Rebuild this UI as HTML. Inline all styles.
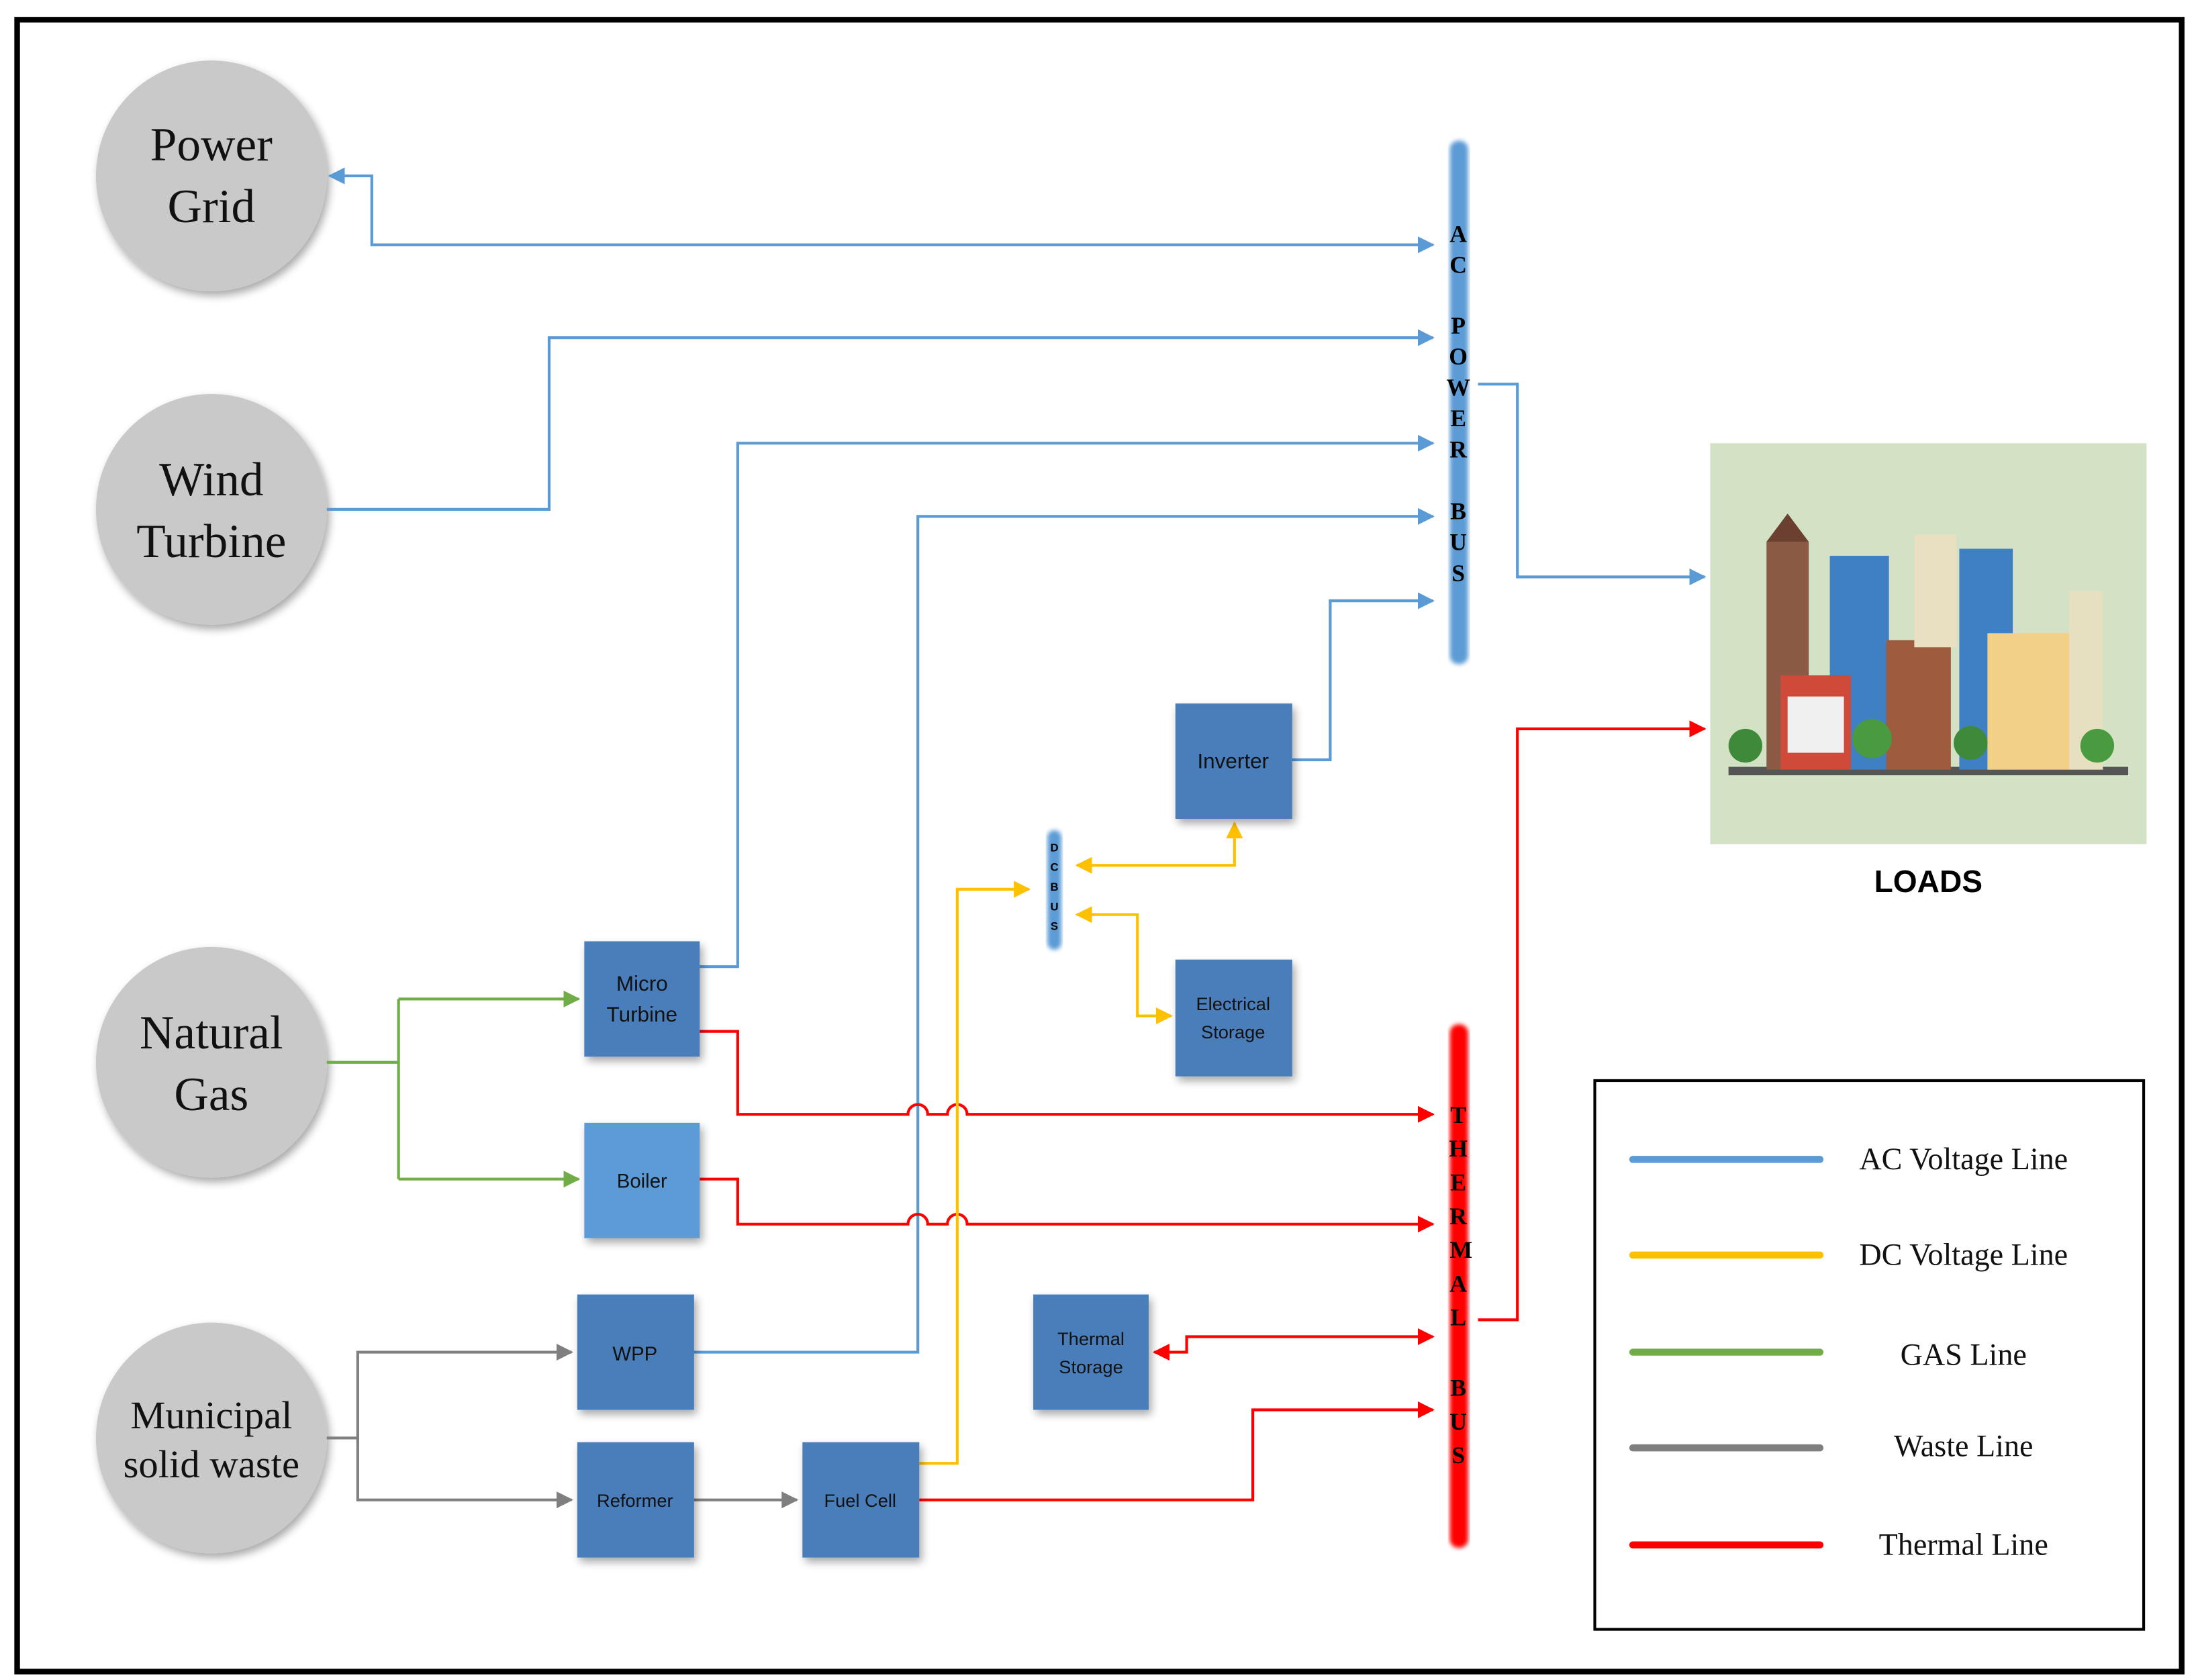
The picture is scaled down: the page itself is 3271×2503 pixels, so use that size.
<!DOCTYPE html>
<html><head><meta charset="utf-8"><style>
html,body{margin:0;padding:0;background:#fff}
svg{display:block}
</style></head><body>
<svg width="3271" height="2503" viewBox="0 0 1560 1194" xmlns="http://www.w3.org/2000/svg">
<defs>
<marker id="ab" viewBox="0 0 10 10" refX="9" refY="5" markerWidth="6" markerHeight="6" orient="auto-start-reverse"><path d="M0,0L10,5L0,10z" fill="#5b9bd5"/></marker>
<marker id="ar" viewBox="0 0 10 10" refX="9" refY="5" markerWidth="6" markerHeight="6" orient="auto-start-reverse"><path d="M0,0L10,5L0,10z" fill="#ff0000"/></marker>
<marker id="ay" viewBox="0 0 10 10" refX="9" refY="5" markerWidth="6" markerHeight="6" orient="auto-start-reverse"><path d="M0,0L10,5L0,10z" fill="#ffc000"/></marker>
<marker id="ag" viewBox="0 0 10 10" refX="9" refY="5" markerWidth="6" markerHeight="6" orient="auto-start-reverse"><path d="M0,0L10,5L0,10z" fill="#70ad47"/></marker>
<marker id="aw" viewBox="0 0 10 10" refX="9" refY="5" markerWidth="6" markerHeight="6" orient="auto-start-reverse"><path d="M0,0L10,5L0,10z" fill="#7f7f7f"/></marker>
<filter id="sh" x="-20%" y="-20%" width="140%" height="140%"><feGaussianBlur in="SourceAlpha" stdDeviation="3"/><feOffset dx="2" dy="3"/><feComponentTransfer><feFuncA type="linear" slope="0.35"/></feComponentTransfer><feMerge><feMergeNode/><feMergeNode in="SourceGraphic"/></feMerge></filter>
<filter id="bl"><feGaussianBlur stdDeviation="1.5"/></filter>
</defs>
<rect x="12" y="14" width="1538" height="1174" fill="#fff" stroke="#000" stroke-width="4"/>

<g fill="#c9c9c9" filter="url(#sh)">
<circle cx="150" cy="125" r="82"/><circle cx="150" cy="362" r="82"/>
<circle cx="150" cy="755" r="82"/><circle cx="150" cy="1022" r="82"/>
</g>
<g font-family="Liberation Serif, serif" font-size="34" text-anchor="middle" fill="#111">
<text x="150" y="114">Power</text><text x="150" y="158">Grid</text>
<text x="150" y="352">Wind</text><text x="150" y="396">Turbine</text>
<text x="150" y="745">Natural</text><text x="150" y="789">Gas</text>
<text x="150" y="1015" font-size="28">Municipal</text><text x="150" y="1050" font-size="28">solid waste</text>
</g>

<rect x="1030" y="100" width="13" height="372" rx="6" fill="#5b9bd5" filter="url(#bl)"/>
<rect x="1030" y="728" width="13" height="372" rx="6" fill="#ff0000" filter="url(#bl)"/>
<rect x="744" y="590" width="10" height="85" rx="5" fill="#5b9bd5" filter="url(#bl)"/>
<g font-family="Liberation Serif, serif" font-size="17" font-weight="bold" text-anchor="middle" fill="#000">
<text x="1036" y="172">A</text><text x="1036" y="194">C</text>
<text x="1036" y="237">P</text><text x="1036" y="259">O</text><text x="1036" y="281">W</text><text x="1036" y="303">E</text><text x="1036" y="325">R</text>
<text x="1036" y="369">B</text><text x="1036" y="391">U</text><text x="1036" y="413">S</text>
<text x="1036" y="798">T</text><text x="1036" y="822">H</text><text x="1036" y="846">E</text><text x="1036" y="870">R</text><text x="1038" y="894">M</text><text x="1036" y="918">A</text><text x="1036" y="942">L</text>
<text x="1036" y="992">B</text><text x="1036" y="1016">U</text><text x="1036" y="1040">S</text>
</g>
<g font-family="Liberation Sans, sans-serif" font-size="8" font-weight="bold" text-anchor="middle" fill="#000">
<text x="749" y="605">D</text><text x="749" y="619">C</text><text x="749" y="633">B</text><text x="749" y="647">U</text><text x="749" y="661">S</text>
</g>

<g fill="none" stroke-width="2">
<path d="M1018,174H264V125H234" stroke="#5b9bd5" marker-end="url(#ab)" marker-start="url(#ab)"/>
<path d="M232,362H390V240H1018" stroke="#5b9bd5" marker-end="url(#ab)"/>
<path d="M497,687H524V315H1018" stroke="#5b9bd5" marker-end="url(#ab)"/>
<path d="M493,961H652V367H1018" stroke="#5b9bd5" marker-end="url(#ab)"/>
<path d="M918,540H945V427H1018" stroke="#5b9bd5" marker-end="url(#ab)"/>
<path d="M1050,273H1078V410H1211" stroke="#5b9bd5" marker-end="url(#ab)"/>
<path d="M1050,938H1078V518H1211" stroke="#ff0000" marker-end="url(#ar)"/>
<path d="M232,755H283M283,710V838" stroke="#70ad47"/>
<path d="M283,710H411" stroke="#70ad47" marker-end="url(#ag)"/>
<path d="M283,838H411" stroke="#70ad47" marker-end="url(#ag)"/>
<path d="M232,1022H254V961H406" stroke="#7f7f7f" marker-end="url(#aw)"/>
<path d="M254,1022V1066H406" stroke="#7f7f7f" marker-end="url(#aw)"/>
<path d="M493,1066H566" stroke="#7f7f7f" marker-end="url(#aw)"/>
<path d="M497,733H524V792H645a7,7 0 0 1 14,0H673a7,7 0 0 1 14,0H1018" stroke="#ff0000" marker-end="url(#ar)"/>
<path d="M497,838H524V870H645a7,7 0 0 1 14,0H673a7,7 0 0 1 14,0H1018" stroke="#ff0000" marker-end="url(#ar)"/>
<path d="M1018,950H843V961H820" stroke="#ff0000" marker-end="url(#ar)" marker-start="url(#ar)"/>
<path d="M653,1066H890V1002H1018" stroke="#ff0000" marker-end="url(#ar)"/>
<path d="M653,1040H680V632H731" stroke="#ffc000" marker-end="url(#ay)"/>
<path d="M877,585V615H765" stroke="#ffc000" marker-end="url(#ay)" marker-start="url(#ay)"/>
<path d="M765,650H808V722H832" stroke="#ffc000" marker-end="url(#ay)" marker-start="url(#ay)"/>
</g>

<g filter="url(#sh)">
<rect x="835" y="500" width="83" height="82" fill="#4a7ebb"/>
<rect x="835" y="682" width="83" height="83" fill="#4a7ebb"/>
<rect x="415" y="669" width="82" height="82" fill="#4a7ebb"/>
<rect x="415" y="798" width="82" height="82" fill="#5b9bd5"/>
<rect x="410" y="920" width="83" height="82" fill="#4a7ebb"/>
<rect x="410" y="1025" width="83" height="82" fill="#4a7ebb"/>
<rect x="570" y="1025" width="83" height="82" fill="#4a7ebb"/>
<rect x="734" y="920" width="82" height="82" fill="#4a7ebb"/>
</g>
<g font-family="Liberation Sans, sans-serif" text-anchor="middle" fill="#111">
<text x="876" y="546" font-size="15">Inverter</text>
<text x="876" y="718" font-size="13">Electrical</text><text x="876" y="738" font-size="13">Storage</text>
<text x="456" y="704" font-size="15">Micro</text><text x="456" y="726" font-size="15">Turbine</text>
<text x="456" y="844" font-size="14">Boiler</text>
<text x="451" y="967" font-size="14">WPP</text>
<text x="451" y="1071" font-size="13">Reformer</text>
<text x="611" y="1071" font-size="13">Fuel Cell</text>
<text x="775" y="956" font-size="13">Thermal</text><text x="775" y="976" font-size="13">Storage</text>
</g>

<rect x="1215" y="315" width="310" height="285" fill="#d3e2c4"/>
<g>
<rect x="1228" y="545" width="284" height="6" fill="#555"/>
<rect x="1255" y="385" width="30" height="162" fill="#8a5a44"/>
<polygon points="1255,385 1270,365 1285,385" fill="#6b4030"/>
<rect x="1300" y="395" width="42" height="152" fill="#3f7fc4"/>
<rect x="1340" y="455" width="46" height="92" fill="#9e5b3e"/>
<rect x="1360" y="380" width="30" height="80" fill="#e8e0c0"/>
<rect x="1392" y="390" width="38" height="157" fill="#3f7fc4"/>
<rect x="1412" y="450" width="58" height="97" fill="#f2d088"/>
<rect x="1470" y="420" width="24" height="127" fill="#e6e0c0"/>
<rect x="1265" y="480" width="50" height="67" fill="#d04a3a"/>
<rect x="1270" y="495" width="40" height="40" fill="#f0f0f0"/>
<circle cx="1240" cy="530" r="12" fill="#3e8a3a"/><circle cx="1330" cy="525" r="14" fill="#4a9a40"/>
<circle cx="1400" cy="528" r="12" fill="#3e8a3a"/><circle cx="1490" cy="530" r="12" fill="#4a9a40"/>
</g>
<text x="1370" y="634" font-family="Liberation Sans, sans-serif" font-size="22" font-weight="bold" text-anchor="middle">LOADS</text>

<rect x="1133" y="768" width="390" height="390" fill="#fff" stroke="#000" stroke-width="2"/>
<g stroke-width="5" stroke-linecap="round">
<line x1="1160" y1="824" x2="1293" y2="824" stroke="#5b9bd5"/>
<line x1="1160" y1="892" x2="1293" y2="892" stroke="#ffc000"/>
<line x1="1160" y1="961" x2="1293" y2="961" stroke="#70ad47"/>
<line x1="1160" y1="1029" x2="1293" y2="1029" stroke="#7f7f7f"/>
<line x1="1160" y1="1098" x2="1293" y2="1098" stroke="#ff0000"/>
</g>
<g font-family="Liberation Serif, serif" font-size="22" text-anchor="middle" fill="#111">
<text x="1395" y="831">AC Voltage Line</text>
<text x="1395" y="899">DC Voltage Line</text>
<text x="1395" y="970">GAS Line</text>
<text x="1395" y="1035">Waste Line</text>
<text x="1395" y="1105">Thermal Line</text>
</g>
</svg>
</body></html>
